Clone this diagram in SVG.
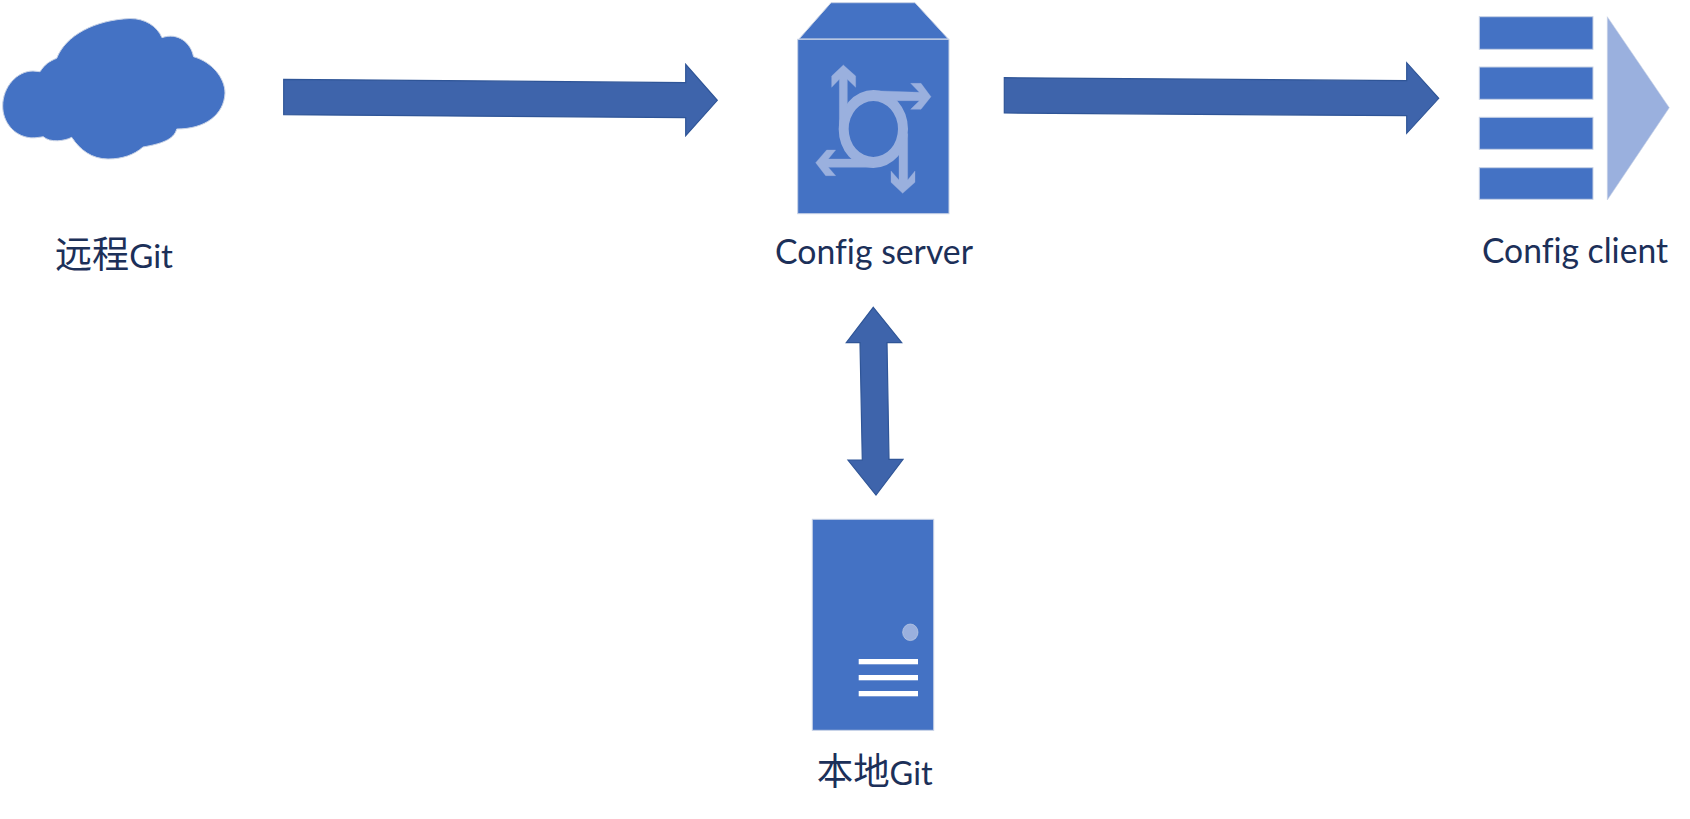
<svg xmlns="http://www.w3.org/2000/svg" width="1690" height="819" viewBox="0 0 1690 819">
<style>
.shape{fill:#4472C4;stroke:#C9D3E6;stroke-width:1}
.light{fill:#9AB0DE;stroke:#9AB0DE;stroke-width:1}
.ring{fill:#9AB0DE;stroke:none}
.tri{fill:#9AB0DE;stroke:#C9D3E6;stroke-width:.6}
.bar{fill:#FFFFFF}
.conn{fill:#3E64AB;stroke:#2F5597;stroke-width:1.2;stroke-linejoin:miter}
text{font-family:"Lato","Noto Sans CJK SC",sans-serif;font-size:35px;fill:#1C3059;font-variant-ligatures:none}
.cjk{font-size:37px}
.latin{font-size:33px}
</style>
<rect width="1690" height="819" fill="#FFFFFF"/>
<g id="connectors">
<polygon class="conn" points="283.7,79.3 685.7,82.7 685.7,64.3 717.3,100.3 685.7,135.7 685.7,117.7 283.7,114.7"/>
<polygon class="conn" points="1004.3,77.7 1406.7,80.7 1406.7,62.7 1438.7,98.3 1406.7,133.3 1406.7,115.7 1004.3,113"/>
<polygon class="conn" points="873.3,307.3 901.7,342.7 887,342.7 889,459.3 903,459.3 876,495 848,460 862.3,460 860,342.7 846.3,342.7"/>
</g>
<g id="remote-git">
<path class="shape" d="M40 71.7C45 64 50 61 56.7 58.3C66 35 95 20 130 18.5C145 18.5 157 26 162 37.7C178 32 191 43 193.5 56.7C212 62 225 78 225 93C224 115 205 129 176.7 129C174 140 160 144 143 147C134 155 122 159 108 159C92 159 80 150 71.7 137.3C65 141 50 143 43.3 136.7C35 138 32 138 30 137.7C14 136 2.7 122 2.7 106C2.7 87 17 71 33 71Z"/>
<text x="55" y="268" textLength="118" lengthAdjust="spacingAndGlyphs"><tspan class="cjk">远程</tspan><tspan class="latin">Git</tspan></text>
</g>
<g id="config-server">
<polygon class="shape" points="799,39 831,2.7 915,2.7 948.3,39"/>
<rect class="shape" x="797.7" y="39.3" width="151.3" height="174.4"/>
<g transform="translate(760 0) scale(.33333)">
<path class="ring" fill-rule="evenodd" d="M236 387a104 117 0 1 0 208 0a104 117 0 1 0 -208 0ZM266 387a74 84 0 1 1 148 0a74 84 0 1 1 -148 0Z"/>
<polygon class="light" points="250,195 287,228 287,262 262,238 262,320 238,380 238,238 215,262 215,228"/>
<polygon class="light" points="340,272 478,277 452,250 483,250 513,290 483,328 452,328 478,302 400,302"/>
<polygon class="light" points="428,580 393,547 393,513 417,540 417,460 443,400 443,540 465,513 465,547"/>
<polygon class="light" points="167,488 200,450 227,450 205,477 280,477 340,502 205,502 227,527 197,527"/>
</g>
<text x="775" y="264" textLength="198" lengthAdjust="spacingAndGlyphs">Config server</text>
</g>
<g id="config-client">
<rect class="shape" x="1479.3" y="16.700" width="113.700" height="32.600"/>
<rect class="shape" x="1479.3" y="67" width="113.700" height="32.300"/>
<rect class="shape" x="1479.3" y="117.300" width="113.700" height="32"/>
<rect class="shape" x="1479.3" y="167.700" width="113.700" height="31.600"/>
<polygon class="tri" points="1607.3,16.700 1669.3,107.700 1607.3,200"/>
<text x="1482" y="263" textLength="186" lengthAdjust="spacingAndGlyphs">Config client</text>
</g>
<g id="local-git">
<rect class="shape" x="812.300" y="519.300" width="121.400" height="211"/>
<ellipse class="tri" cx="910.300" cy="632.300" rx="7.700" ry="8.300"/>
<rect class="bar" x="858.700" y="659" width="59.300" height="5.300"/>
<rect class="bar" x="858.700" y="675" width="59.300" height="5.300"/>
<rect class="bar" x="858.700" y="691" width="59.300" height="5.300"/>
<text x="816.700" y="785" textLength="116" lengthAdjust="spacingAndGlyphs"><tspan class="cjk">本地</tspan><tspan class="latin">Git</tspan></text>
</g>
</svg>
